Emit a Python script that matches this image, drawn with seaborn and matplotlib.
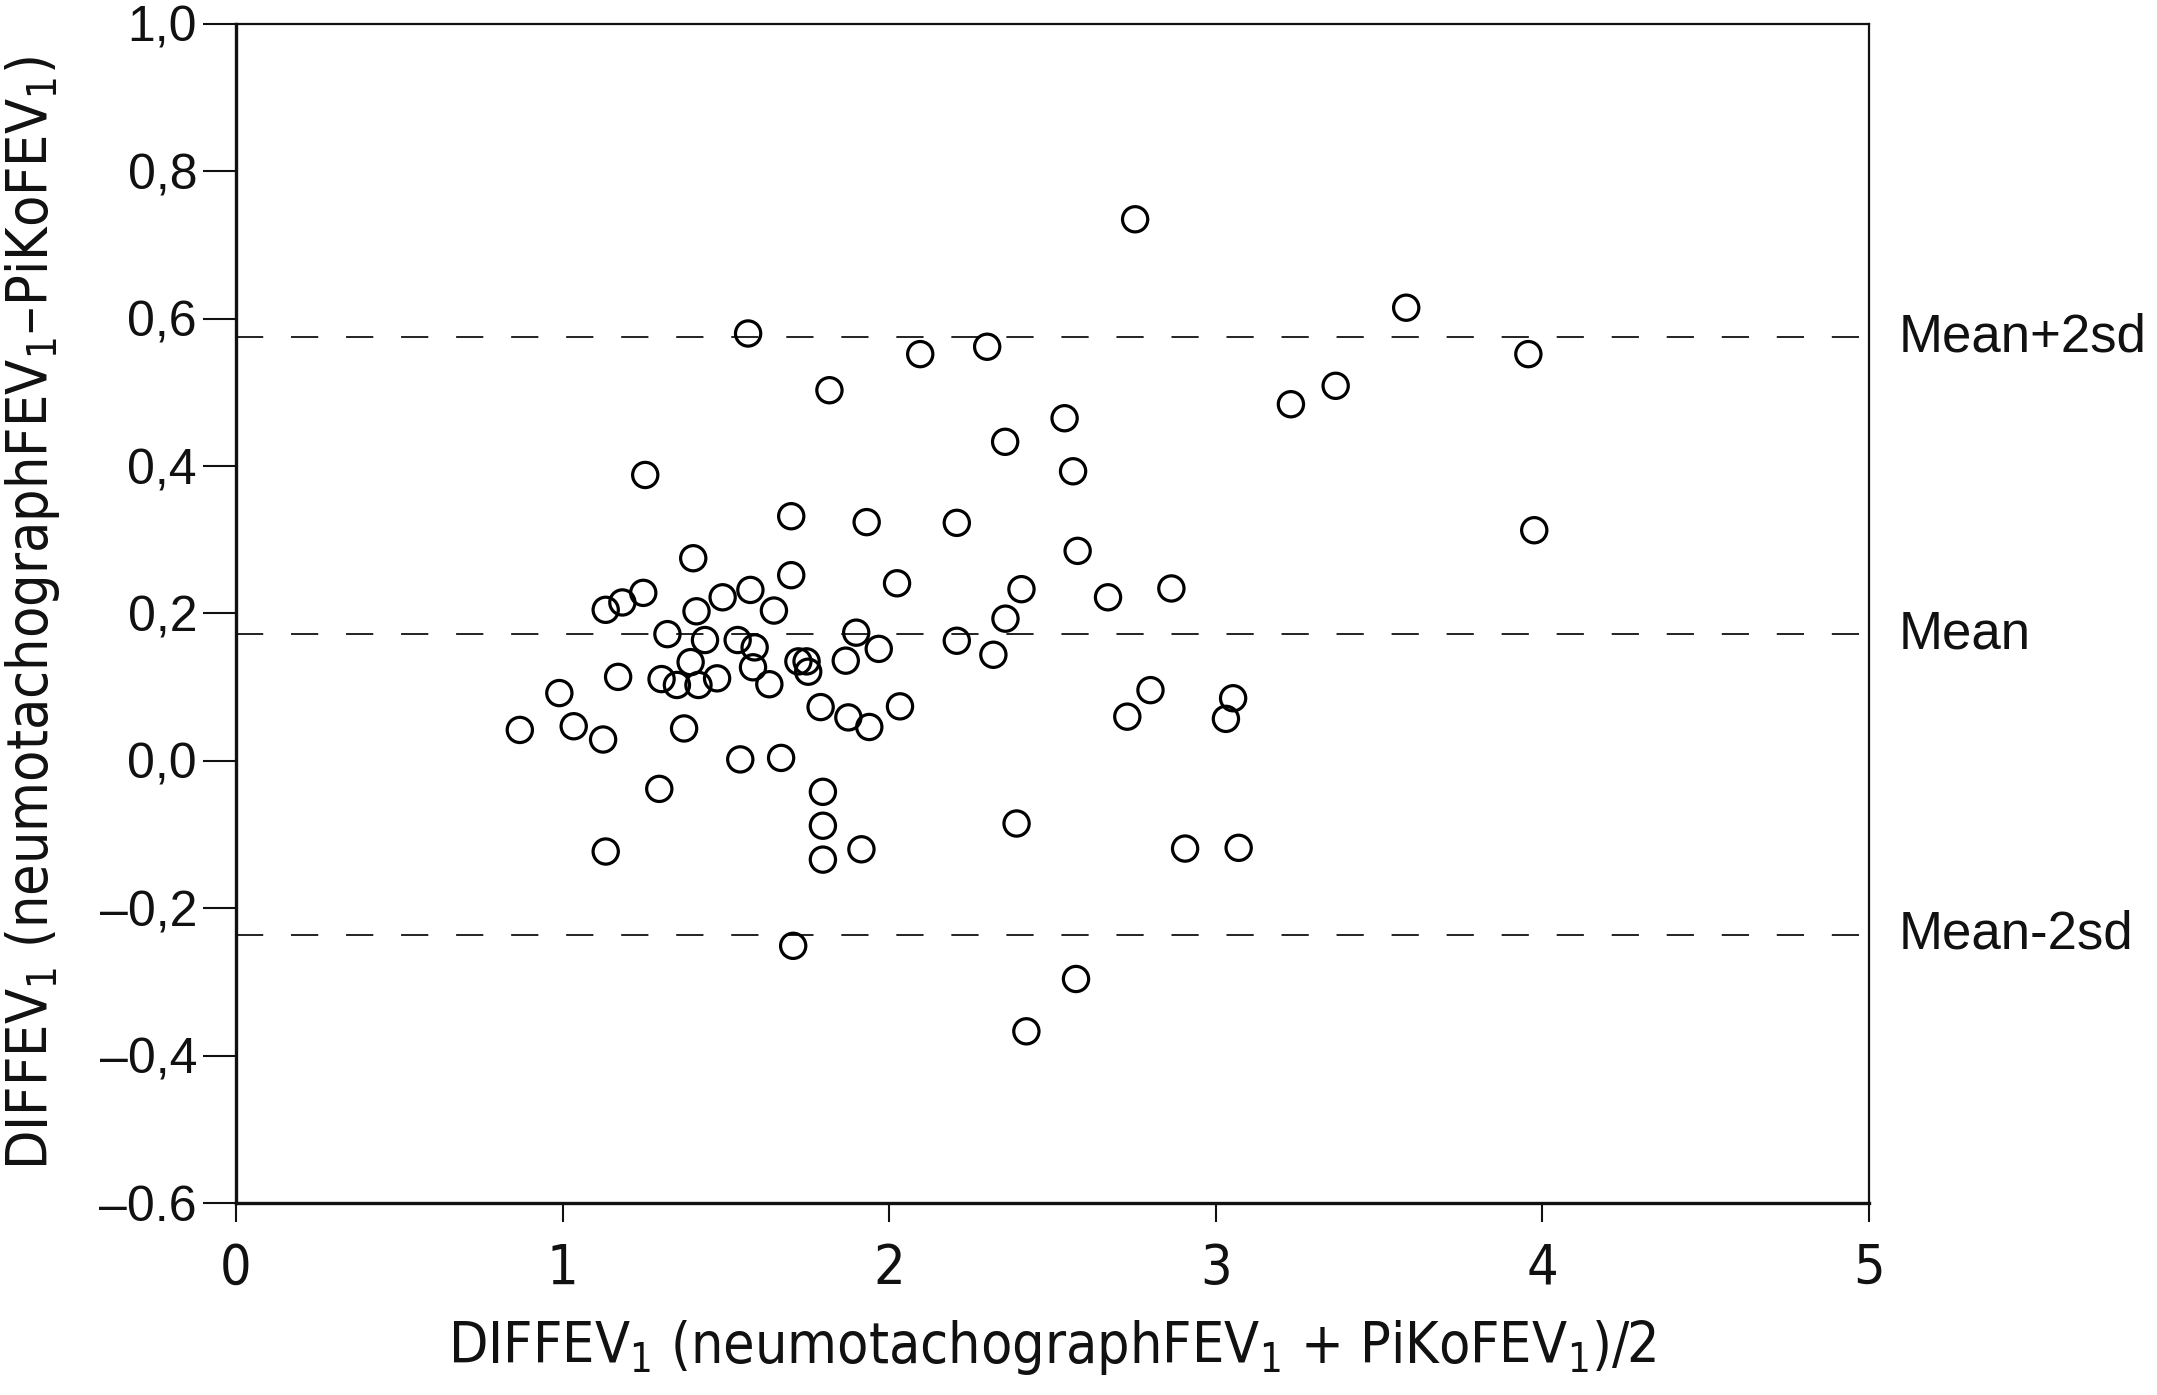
import matplotlib
matplotlib.use("Agg")
import matplotlib.pyplot as plt
from matplotlib import font_manager as fm
import seaborn as sns
import pandas as pd

# ---- data ----
mean_x = [2.753, 3.583, 1.568, 2.095, 2.300, 1.817, 3.957, 3.367, 3.230, 2.537,
          2.355, 2.563, 1.253, 3.975, 1.700, 1.931, 2.207, 1.400, 2.577, 1.700,
          2.024, 2.670, 2.405, 2.864, 1.575, 1.490, 1.247, 1.183, 1.132, 1.410,
          1.647, 2.356, 1.899, 1.321, 1.436, 1.536, 2.207, 1.588, 1.968, 1.722,
          1.747, 1.752, 1.867, 2.319, 1.392, 1.583, 1.170, 1.303, 1.473, 1.350,
          1.416, 1.633, 2.800, 3.053, 0.990, 2.033, 1.790, 1.875, 2.729, 3.031,
          1.939, 1.372, 1.034, 0.869, 1.124, 1.544, 1.669, 1.296, 1.797, 1.797,
          2.390, 1.797, 1.915, 1.132, 2.906, 3.070, 1.706, 2.572, 2.420]
diff_y = [0.735, 0.615, 0.580, 0.552, 0.562, 0.503, 0.552, 0.509, 0.484, 0.465,
          0.433, 0.393, 0.388, 0.313, 0.332, 0.324, 0.323, 0.275, 0.285, 0.252,
          0.241, 0.222, 0.233, 0.234, 0.232, 0.222, 0.228, 0.215, 0.205, 0.203,
          0.204, 0.193, 0.174, 0.172, 0.164, 0.164, 0.163, 0.154, 0.152, 0.135,
          0.135, 0.121, 0.136, 0.144, 0.134, 0.127, 0.114, 0.111, 0.112, 0.103,
          0.103, 0.104, 0.096, 0.085, 0.092, 0.074, 0.073, 0.059, 0.060, 0.057,
          0.046, 0.044, 0.047, 0.042, 0.029, 0.002, 0.004, -0.038, -0.042, -0.088,
          -0.085, -0.134, -0.120, -0.123, -0.119, -0.118, -0.251, -0.296, -0.367]
line_values = [0.575, 0.172, -0.236]
line_labels = ["Mean+2sd", "Mean", "Mean-2sd"]
x_ticks = [0, 1, 2, 3, 4, 5]
x_ticklabels = ["0", "1", "2", "3", "4", "5"]
y_ticks = [1.0, 0.8, 0.6, 0.4, 0.2, 0.0, -0.2, -0.4, -0.6]
y_ticklabels = ["1,0", "0,8", "0,6", "0,4", "0,2", "0,0", "\u20130,2", "\u20130,4", "\u20130.6"]
x_label = "DIFFEV$_1$ (neumotachographFEV$_1$ + PiKoFEV$_1$)/2"
y_label = "DIFFEV$_1$ (neumotachographFEV$_1$\u2013PiKoFEV$_1$)"

df = pd.DataFrame({"mean": mean_x, "diff": diff_y})

sns.set_theme(style="white")
names = {f.name for f in fm.fontManager.ttflist}
wide = "Liberation Sans" if "Liberation Sans" in names else "DejaVu Sans"
if "Liberation Sans Narrow" in names:
    narrow = ["Liberation Sans Narrow", "DejaVu Sans"]
    narrow_stretch = "normal"
else:
    narrow = ["DejaVu Sans"]
    narrow_stretch = "condensed"
plt.rcParams["font.family"] = [wide, "DejaVu Sans"]
plt.rcParams["mathtext.default"] = "regular"

fig = plt.figure(figsize=(21.57, 13.95), dpi=100)
ax = fig.add_axes([236 / 2157, 1 - 1203 / 1395, (1869 - 236) / 2157, (1203 - 24) / 1395])

sns.scatterplot(data=df, x="mean", y="diff", ax=ax, s=330, marker="o",
                facecolor="none", edgecolor="black", linewidth=2.3, zorder=3)

for v, lab in zip(line_values, line_labels):
    ax.axhline(v, color="#222222", lw=1.4, dashes=(14, 14.3), zorder=2)
    ax.text(1.018, v, lab, transform=ax.get_yaxis_transform(), ha="left",
            va="center", fontsize=38, family=[wide, "DejaVu Sans"], color="#111111")

ax.set_xlim(0, 5)
ax.set_ylim(-0.6, 1.0)
ax.set_xticks(x_ticks)
ax.set_xticklabels(x_ticklabels, family=narrow, stretch=narrow_stretch, fontsize=40)
ax.set_yticks(y_ticks)
ax.set_yticklabels(y_ticklabels, fontsize=36)
ax.tick_params(axis="y", direction="out", length=24, width=1.5, pad=4, color="#111111",
               left=True, labelcolor="#111111")
ax.tick_params(axis="x", direction="out", length=14, width=1.5, pad=14, color="#111111",
               bottom=True, labelcolor="#111111")

ax.set_xlabel(x_label, family=narrow, stretch=narrow_stretch, fontsize=41, color="#111111")
ax.set_ylabel(y_label, family=narrow, stretch=narrow_stretch, fontsize=41, color="#111111")
ax.xaxis.set_label_coords(0.5, -0.0975)
ax.yaxis.set_label_coords(-0.1066, 0.5)

for side in ["left", "bottom"]:
    ax.spines[side].set_linewidth(2.4)
    ax.spines[side].set_color("#111111")
for side in ["top", "right"]:
    ax.spines[side].set_linewidth(1.6)
    ax.spines[side].set_color("#111111")
ax.grid(False)

fig.savefig("out.png", dpi=100)
